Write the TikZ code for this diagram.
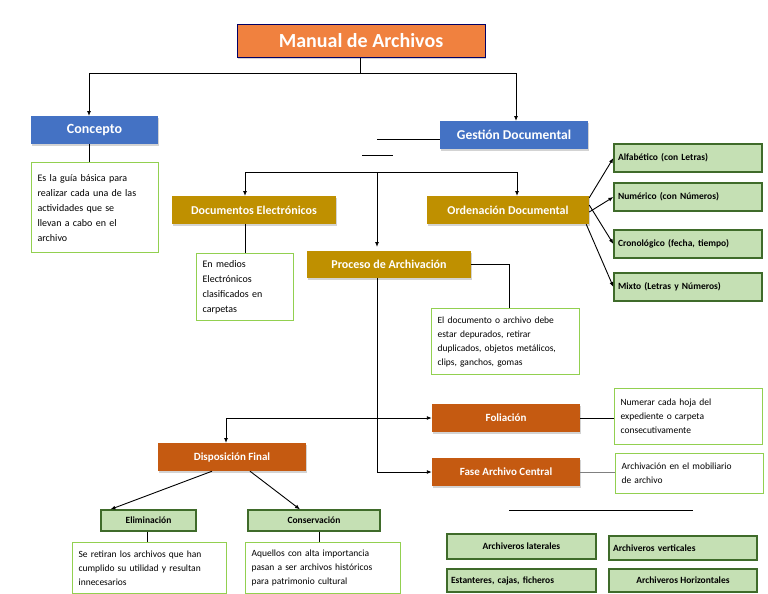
\documentclass[tikz,border=0pt]{standalone}
\usepackage{fontspec}
\setmainfont{Carlito}
\usetikzlibrary{shadows,arrows.meta}
\definecolor{org}{HTML}{F0813F}
\definecolor{blu}{HTML}{4472C4}
\definecolor{gld}{HTML}{BF9000}
\definecolor{brn}{HTML}{C55A11}
\definecolor{gfill}{HTML}{C5E0B4}
\definecolor{gdark}{HTML}{3F6B2A}
\definecolor{glight}{HTML}{92D050}
\tikzset{
 hdr/.style={draw=none,text=white,font=\bfseries,inner sep=0pt,drop shadow={shadow xshift=1pt,shadow yshift=-2pt,opacity=0.35}},
 desc/.style={draw=glight,line width=1.2pt,fill=white,align=left,anchor=north west,inner xsep=6pt,inner ysep=4pt,font=\fontsize{10}{15}\selectfont},
 gbox/.style={draw=gdark,line width=1.2pt,fill=gfill,inner sep=0pt,font=\fontsize{9.5}{11}\selectfont\bfseries},
 ln/.style={line width=0.9pt},
 ar/.style={line width=0.9pt,-{Latex[length=5pt,width=4pt]}},
}
\begin{document}
\begin{tikzpicture}[x=1pt,y=-1pt]
\useasboundingbox (0,0) rectangle (768,594);
% title
\node[hdr,fill=org,draw=blue!40!black,line width=0.8pt,minimum width=248,minimum height=33,font=\fontsize{20}{22}\selectfont\bfseries] (t) at (361,41) {Manual de Archivos};
\node[hdr,fill=blu,minimum width=127,minimum height=28,font=\fontsize{14}{16}\selectfont\bfseries] (c) at (94.5,130) {Concepto};
\node[hdr,fill=blu,minimum width=148,minimum height=28,font=\fontsize{13.5}{16}\selectfont\bfseries] (g) at (514,135) {Gestión Documental};
\coordinate (t1) at (360,73);
\draw[ln] (t.south -| t1) -- (t1);
\draw[ar] (t1) -- (89,73) -- (89,116);
\draw[ar] (t1) -- (516,73) -- (516,121);
% concept desc
\node[desc,minimum width=127,minimum height=90,text width=115] (cd) at (31,162) {Es la guía básica para\\realizar cada una de las\\actividades que se\\llevan a cabo en el\\archivo};
\draw[ln] (c.south -| 89,0) -- (89,162);
% gestion lines
\coordinate (g1) at (377,139);
\draw[ln] (g1) -- (g.west |- g1);
\coordinate (s1) at (362,155); \coordinate (s2) at (393,155);
\draw[ln] (s1) -- (s2);
% second level
\node[hdr,fill=gld,minimum width=164,minimum height=28,font=\fontsize{12}{14}\selectfont\bfseries] (de) at (254,210) {Documentos Electrónicos};
\node[hdr,fill=gld,minimum width=162,minimum height=28,font=\fontsize{12}{14}\selectfont\bfseries] (od) at (508,210) {Ordenación Documental};
\node[hdr,fill=gld,minimum width=164,minimum height=27,font=\fontsize{12}{14}\selectfont\bfseries] (pa) at (389,264.5) {Proceso de Archivación};
\coordinate (k) at (377,172);
\draw[ar] (k) -- (245,172) -- (245,196);
\draw[ar] (k) -- (517,172) -- (517,196);
\draw[ar] (k) -- (377,247);
% docs desc
\node[desc,minimum width=97,minimum height=67,text width=85] (dd) at (196,253) {En medios\\Electrónicos\\clasificados en\\carpetas};
\draw[ln] (de.south -| 245,0) -- (245,253);
% ordenacion green
\foreach \n/\y/\tx in {a/158/{Alfabético (con Letras)},b/197/{Numérico (con Números)},cc/244/{Cronológico (fecha, tiempo)},m/287/{Mixto (Letras y Números)}}{
 \node[gbox,minimum width=148,minimum height=28,align=left,text width=140] (\n) at (688,\y) {\tx};
}
\draw[ar] (od.north east) ++(0,2) -- (a.west);
\draw[ar] ([yshift=-2pt]od.east) -- (b.west);
\draw[ar] ([yshift=5pt]od.east) -- (cc.west);
\draw[ar] ([xshift=-3pt]od.south east) -- (m.west);
% proceso desc
\node[desc,minimum width=148,minimum height=66,text width=136,font=\fontsize{9.5}{14}\selectfont] (pd) at (431,308) {El documento o archivo debe\\estar depurados, retirar\\duplicados, objetos metálicos,\\clips, ganchos, gomas};
\draw[ln] (pa.east) -- (509,264.5) -- (509,308);
% foliacion & fase
\node[hdr,fill=brn,minimum width=148,minimum height=28,font=\fontsize{11}{13}\selectfont\bfseries] (fo) at (506,418) {Foliación};
\node[hdr,fill=brn,minimum width=148,minimum height=28,font=\fontsize{11}{13}\selectfont\bfseries] (fa) at (506,472) {Fase Archivo Central};
\node[hdr,fill=brn,minimum width=148,minimum height=28,font=\fontsize{11}{13}\selectfont\bfseries] (df) at (232,457) {Disposición Final};
\coordinate (v1) at (377,418);
\draw[ln] (pa.south -| v1) -- (377,472);
\draw[ar] (v1) -- (fo.west);
\draw[ar] (377,472) -- (fa.west);
\draw[ar] (v1) -- (226,418) -- (226,443);
\node[desc,minimum width=148,minimum height=56,text width=136,font=\fontsize{9.5}{14}\selectfont] (fod) at (614,388) {Numerar cada hoja del\\expediente o carpeta\\consecutivamente};
\node[desc,minimum width=148,minimum height=40,text width=136,font=\fontsize{9.5}{14}\selectfont] (fad) at (615,453) {Archivación en el mobiliario\\de archivo};
\draw[ln] (fo.east) -- (fod.west |- fo.east);
\draw[ln,gray] (fa.east) -- (fad.west |- fa.east);
% eliminacion / conservacion
\node[gbox,minimum width=95,minimum height=21] (el) at (148.5,520.5) {Eliminación};
\node[gbox,minimum width=132,minimum height=21] (co) at (314,520.5) {Conservación};
\draw[ar] ([xshift=-20pt]df.south) -- ([xshift=10pt]el.north west);
\draw[ar] ([xshift=18pt]df.south) -- ([xshift=-14pt]co.north);
\node[desc,minimum width=154,minimum height=51,text width=142,font=\fontsize{9.5}{14}\selectfont] (eld) at (72,542) {Se retiran los archivos que han\\cumplido su utilidad y resultan\\innecesarios};
\node[desc,minimum width=155,minimum height=51,text width=143,font=\fontsize{9.5}{14}\selectfont] (cod) at (245,542) {Aquellos con alta importancia\\pasan a ser archivos históricos\\para patrimonio cultural};
\draw[ln] (el.south -| 147,0) -- (147,542);
\draw[ln] (co.south -| 319,0) -- (319,542);
% bottom
\coordinate (h1) at (509,510); \coordinate (h2) at (693,510);
\draw[ln] (h1) -- (h2);
\node[gbox,minimum width=149,minimum height=25] (b1) at (521.5,546.5) {Archiveros laterales};
\node[gbox,minimum width=148,minimum height=24,align=left,text width=140] (b2) at (683,548) {Archiveros verticales};
\node[gbox,minimum width=149,minimum height=23,align=left,text width=141] (b3) at (521.5,580.5) {Estanteres, cajas, ficheros};
\node[gbox,minimum width=148,minimum height=23] (b4) at (683,580.5) {Archiveros Horizontales};
\end{tikzpicture}
\end{document}
